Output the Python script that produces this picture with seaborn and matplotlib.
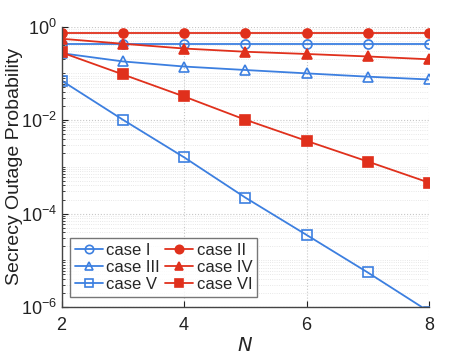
import numpy as np
import pandas as pd
import matplotlib
matplotlib.use('Agg')
import matplotlib.pyplot as plt
import matplotlib.ticker as mticker
import seaborn as sns

N = [2, 3, 4, 5, 6, 7, 8]
case_I = [0.43, 0.43, 0.43, 0.43, 0.43, 0.43, 0.43]
case_II = [0.74, 0.74, 0.74, 0.74, 0.74, 0.74, 0.74]
case_III = [0.27, 0.18, 0.14, 0.118, 0.10, 0.085, 0.074]
case_IV = [0.55, 0.43, 0.34, 0.29, 0.26, 0.23, 0.20]
case_V = [0.07, 0.0102, 0.0016, 0.00022, 3.5e-5, 5.5e-6, 8e-7]
case_VI = [0.28, 0.095, 0.032, 0.0102, 0.0036, 0.0013, 0.00046]

blue = '#3c7fe0'
red = '#e0301c'
series = [
    ('case I', case_I, blue, 'o', 'none'),
    ('case II', case_II, red, 'o', red),
    ('case III', case_III, blue, '^', 'none'),
    ('case IV', case_IV, red, '^', red),
    ('case V', case_V, blue, 's', 'none'),
    ('case VI', case_VI, red, 's', red),
]

rows = []
for name, vals, _, _, _ in series:
    for n, v in zip(N, vals):
        rows.append([name, n, v])
df = pd.DataFrame(rows, columns=['case', 'N', 'pout'])

sns.set_style('white')
plt.rcParams['font.family'] = ['Liberation Sans', 'DejaVu Sans']

f, ax = plt.subplots(figsize=(4.74, 3.55), dpi=100)
for name, vals, c, m, fc in series:
    sub = df[df['case'] == name]
    sns.lineplot(ax=ax, data=sub, x='N', y='pout', color=c, lw=1.3,
                 marker=m, markersize=6.5, markerfacecolor=fc,
                 markeredgecolor=c, markeredgewidth=1.2, label=name)

ax.set_yscale('log')
ax.set_xlim(2, 8)
ax.set_ylim(1e-6, 1)
ax.set_xticks([2, 4, 6, 8])
ax.yaxis.set_major_locator(mticker.FixedLocator([1, 1e-2, 1e-4, 1e-6]))
ax.yaxis.set_minor_locator(mticker.LogLocator(base=10, subs=np.arange(1, 10), numticks=20))
ax.yaxis.set_minor_formatter(mticker.NullFormatter())
ax.yaxis.set_major_formatter(mticker.FuncFormatter(
    lambda v, p: '$\\mathregular{10^{%d}}$' % int(round(np.log10(v)))))

ax.grid(which='major', axis='both', ls=':', color='#c8c8c8', lw=0.8)
ax.grid(which='minor', axis='y', ls=':', color='#e0e0e0', lw=0.6)
ax.set_axisbelow(True)
for s in ['top', 'right']:
    ax.spines[s].set_visible(False)
for s in ['left', 'bottom']:
    ax.spines[s].set_color('#444444')
    ax.spines[s].set_linewidth(1.0)
ax.tick_params(which='both', direction='in', labelsize=13, colors='#222222',
               left=True, bottom=True)
ax.tick_params(which='major', length=4)
ax.tick_params(which='minor', length=2)
ax.tick_params(axis='x', pad=7)

ax.set_xlabel('$N$', fontsize=14, labelpad=2)
ax.set_ylabel('Secrecy Outage Probability', fontsize=14, color='#222222')
ax.yaxis.set_label_coords(-0.104, 0.5)

# row-wise legend order like the original
h, l = ax.get_legend_handles_labels()
order = [0, 2, 4, 1, 3, 5]
leg = ax.legend([h[i] for i in order], [l[i] for i in order],
                ncol=2, loc='lower left', fontsize=12, frameon=True,
                fancybox=False, edgecolor='#555555', handlelength=1.7,
                columnspacing=0.3, handletextpad=0.2, borderpad=0.3,
                labelspacing=0.12, borderaxespad=0,
                bbox_to_anchor=(0.022, 0.036))
leg.get_frame().set_linewidth(1.0)
for lh in leg.get_lines():
    lh.set_markersize(6)

f.subplots_adjust(left=0.13, right=0.905, top=0.925, bottom=0.135)
f.savefig('out.png', dpi=100)
